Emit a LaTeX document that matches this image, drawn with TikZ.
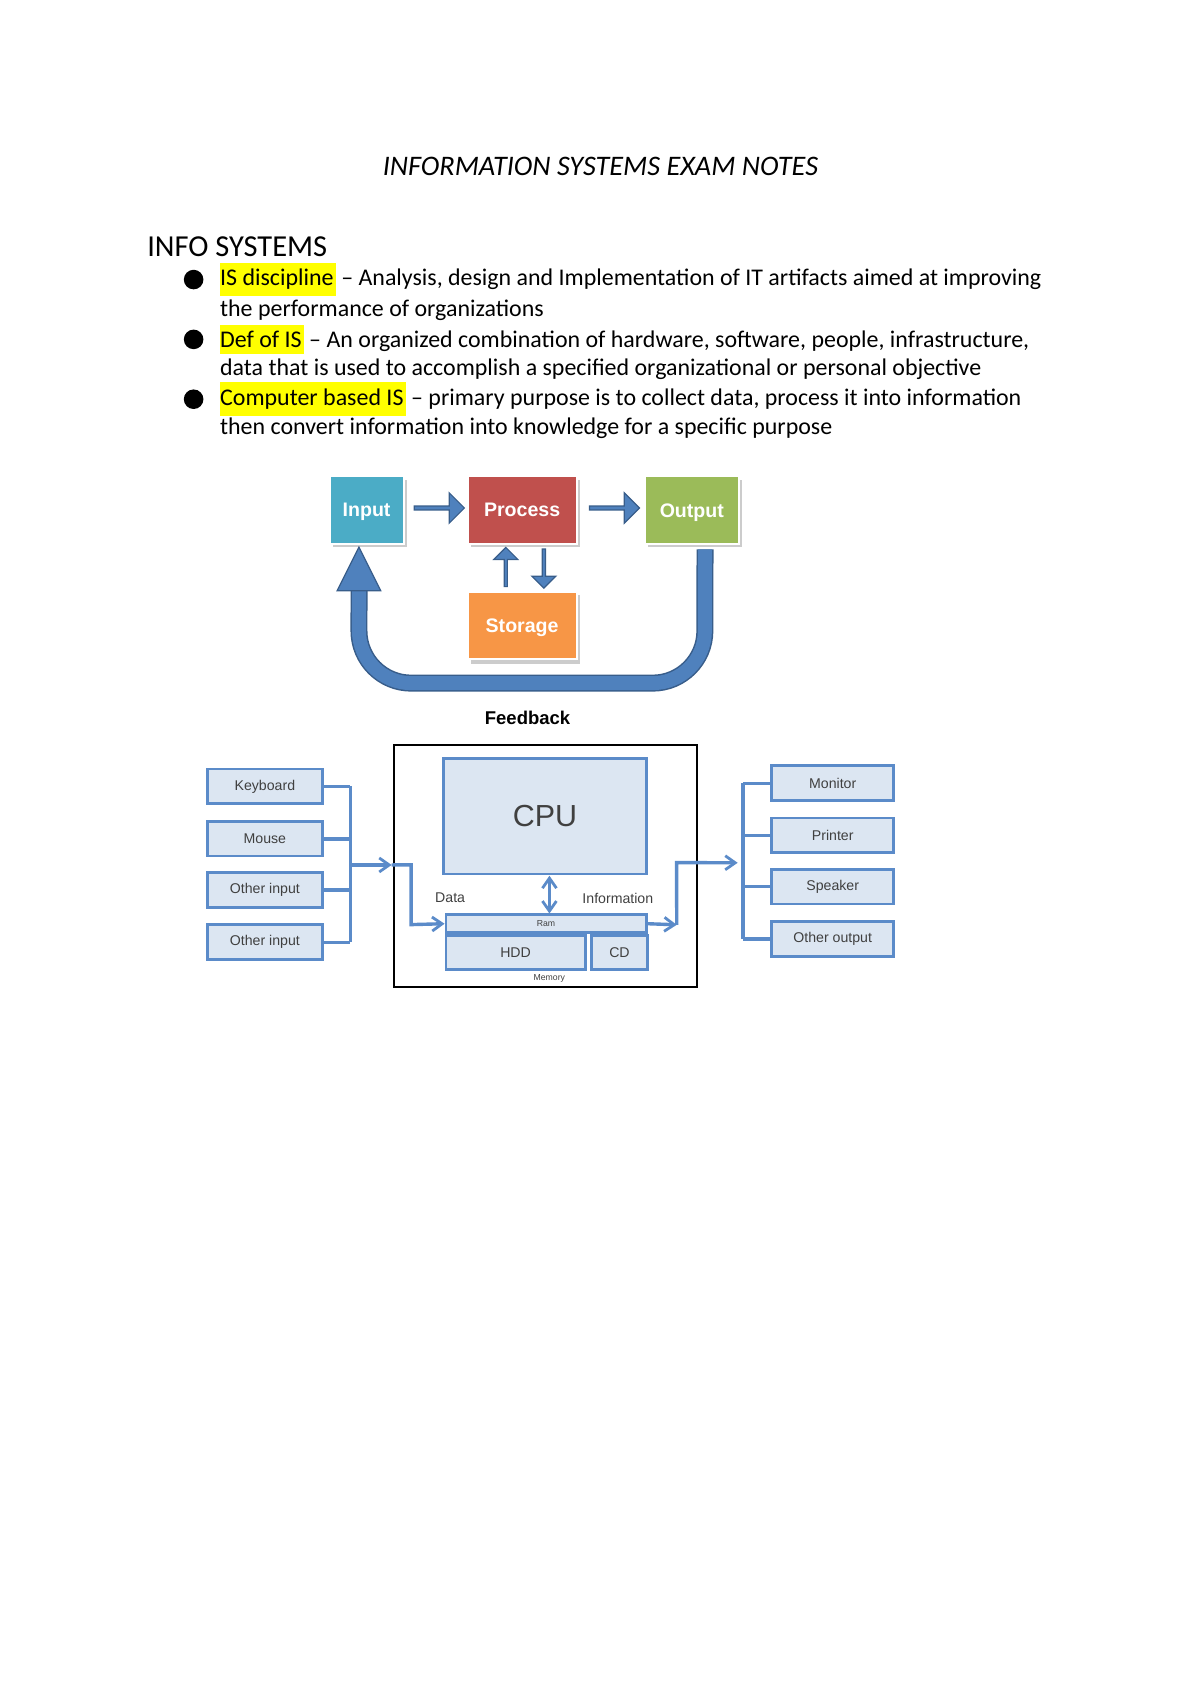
\documentclass[tikz,border=0pt]{standalone}
\usepackage{fontspec}
\setmainfont{Carlito}
\newfontfamily\arial{Liberation Sans}
\usetikzlibrary{shapes.arrows,arrows.meta}
\definecolor{hl}{HTML}{FFFF00}
\definecolor{cin}{HTML}{4BACC6}
\definecolor{cpr}{HTML}{C0504D}
\definecolor{cout}{HTML}{9BBB59}
\definecolor{cst}{HTML}{F79646}
\definecolor{bl}{HTML}{4F81BD}
\definecolor{bld}{HTML}{385D8A}
\definecolor{lb}{HTML}{DCE6F2}
\definecolor{lbb}{HTML}{5B8BC9}
\definecolor{tx}{HTML}{404040}
\begin{document}
\begin{tikzpicture}[x=0.5pt,y=-0.5pt,scale=1.088,every node/.style={transform shape},
  txt/.style={anchor=west,inner sep=0,font=\fontsize{11}{13}\selectfont},
  blk/.style={draw=white,line width=1pt,text=white,font=\arial\bfseries\fontsize{9}{10}\selectfont,inner sep=0,text depth=0pt},
  sb/.style={fill=lb,draw=lbb,line width=1.4pt,inner sep=0,font=\arial\fontsize{6.5}{7}\selectfont,text=tx},
  bus/.style={draw=lbb,line width=1.7pt},
  bar/.style={bus,-{Straight Barb[length=5pt,width=7pt,line width=1.4pt]}},
  barr/.style={single arrow,fill=bl,draw=bld,line width=0.6pt,minimum height=23pt,single arrow head extend=2pt,minimum width=14pt,inner sep=0}
]
\useasboundingbox (0,0) rectangle (1103,1561);
\node[font=\itshape\fontsize{13}{15}\selectfont] (title) at (552,153) {INFORMATION SYSTEMS EXAM NOTES};
\node[txt,font=\fontsize{14}{16}\selectfont] (h) at (135,227) {INFO SYSTEMS};
\foreach \y/\n in {257/b1,312/b2,367/b3} \node[circle,fill=black,inner sep=0,minimum size=9pt] (\n) at (178,\y) {};
\node[txt] (l1) at (202,257) {\colorbox{hl}{\hspace{-3pt}IS discipline\hspace{-2pt}} – Analysis, design and Implementation of IT artifacts aimed at improving};
\node[txt] (l2) at (202,285) {the performance of organizations};
\node[txt] (l3) at (202,312) {\colorbox{hl}{\hspace{-3pt}Def of IS\hspace{-2pt}} – An organized combination of hardware, software, people, infrastructure,};
\node[txt] (l4) at (202,339) {data that is used to accomplish a specified organizational or personal objective};
\node[txt] (l5) at (202,367) {\colorbox{hl}{\hspace{-3pt}Computer based IS\hspace{-2pt}} – primary purpose is to collect data, process it into information};
\node[txt] (l6) at (202,394) {then convert information into knowledge for a specific purpose};
% top diagram
\fill[gray!40] (306,441) rectangle (374,503);
\fill[gray!40] (433,441) rectangle (533,503);
\fill[gray!40] (596,441) rectangle (682,503);
\fill[gray!40] (433,547) rectangle (533,610);
\node[blk,fill=cin,minimum width=34pt,minimum height=31pt] (in) at (337,469) {Input};
\node[blk,fill=cpr,minimum width=50pt,minimum height=31pt] (pr) at (480,469) {Process};
\node[blk,fill=cout,minimum width=43pt,minimum height=31pt] (out) at (636,469) {Output};
\node[blk,fill=cst,minimum width=50pt,minimum height=31pt] (st) at (480,575) {Storage};
\node[barr] (a1) at (403,467) {};
\node[barr] (a2) at (564,467) {};
\node[barr,rotate=90,minimum height=18pt,minimum width=11pt] (a3) at (465,522) {};
\node[barr,rotate=-90,minimum height=18pt,minimum width=11pt] (a4) at (500,522) {};
\coordinate (f1) at (648,505);
\coordinate (f2) at (330,540);
\draw[bld,line width=8.5pt] (f1) -- (648,580) arc (0:90:48) -- (378,628) arc (90:180:48) -- (f2);
\draw[bl,line width=7pt] (f1) -- (648,580) arc (0:90:48) -- (378,628) arc (90:180:48) -- (f2);
\filldraw[fill=bl,draw=bld,line width=0.6pt] (310,543) -- (330,503) -- (350,543) -- cycle;
\node[font=\arial\bfseries\fontsize{8.5}{10}\selectfont] (fb) at (485,660) {Feedback};
% lower diagram
\draw[black,line width=1pt] (362,685) rectangle (641,907);
\node[sb,minimum width=53pt,minimum height=16pt] (k1) at (243.5,723) {Keyboard};
\node[sb,minimum width=53pt,minimum height=16pt] (k2) at (243.5,771) {Mouse};
\node[sb,minimum width=53pt,minimum height=16pt] (k3) at (243.5,818) {Other input};
\node[sb,minimum width=53pt,minimum height=16pt] (k4) at (243.5,866) {Other input};
\node[sb,minimum width=56pt,minimum height=16pt] (m1) at (765.5,720) {Monitor};
\node[sb,minimum width=56pt,minimum height=16pt] (m2) at (765.5,768) {Printer};
\node[sb,minimum width=56pt,minimum height=16pt] (m3) at (765.5,815) {Speaker};
\node[sb,minimum width=56pt,minimum height=16pt] (m4) at (765.5,863) {Other output};
\node[sb,minimum width=93pt,minimum height=53pt,font=\fontsize{14}{16}\selectfont\arial] (cpu) at (501,750.5) {CPU};
\node[sb,minimum width=92pt,minimum height=8pt,font=\arial\fontsize{4}{5}\selectfont] (ram) at (502,849) {Ram};
\node[sb,minimum width=64pt,minimum height=15.5pt] (hdd) at (474,875.5) {HDD};
\node[sb,minimum width=25.5pt,minimum height=15.5pt] (cd) at (569.5,875.5) {CD};
\node[font=\arial\fontsize{4}{5}\selectfont,text=tx] (mem) at (505,899) {Memory};
\node[font=\arial\fontsize{6.5}{7}\selectfont,text=tx,anchor=west] (data) at (393,825) {Data};
\node[font=\arial\fontsize{6.5}{7}\selectfont,text=tx] (info) at (568,826) {Information};
\coordinate (lx) at (322,0);
\coordinate (rx) at (683,0);
\coordinate (cx) at (505,0);
\foreach \n in {k1,k2,k3,k4} \draw[bus] (\n.east) -- (\n.east -| lx);
\draw[bus] (322,723) -- (322,866);
\coordinate (inA) at (322,795);
\coordinate (inB) at (360,795);
\draw[bar] (inA) -- (inB);
\draw[bar] (inB) -- (378,795) -- (378,850) -- (ram.west);
\draw[bus,{Straight Barb[length=5pt,width=7pt,line width=1.4pt]}-{Straight Barb[length=5pt,width=7pt,line width=1.4pt]}] (cpu.south -| cx) -- (ram.north -| cx);
\coordinate (oA) at (622,850);
\coordinate (oB) at (678,793);
\draw[bar] (ram.east) -- (oA);
\draw[bar] (oA) -- (622,793) -- (oB);
\draw[bus] (683,720) -- (683,863);
\foreach \n in {m1,m2,m3,m4} \draw[bus] (\n.west -| rx) -- (\n.west);
\end{tikzpicture}
\end{document}
